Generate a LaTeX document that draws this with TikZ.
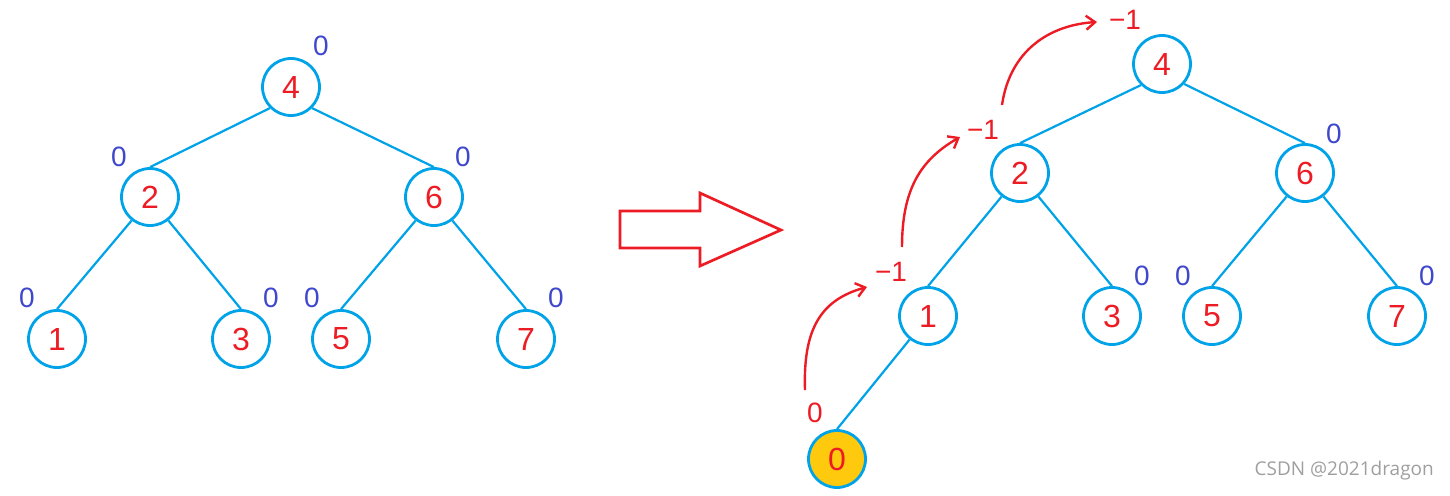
\documentclass[tikz,border=0pt]{standalone}
\usepackage{fontspec}
\usetikzlibrary{arrows.meta}
\setmainfont{Liberation Sans}
\newfontfamily\wmfont{Open Sans}
\definecolor{edgeblue}{HTML}{00A2E8}
\definecolor{numred}{HTML}{ED1C24}
\definecolor{balblue}{HTML}{3F48CC}
\definecolor{gold}{HTML}{FFC90E}
\begin{document}
\begin{tikzpicture}[x=1pt,y=-1pt,
  tnode/.style={circle,draw=edgeblue,line width=2.8pt,minimum size=57pt,inner sep=0pt,text=numred,font=\fontsize{32}{32}\selectfont},
  bal/.style={text=balblue,font=\fontsize{28}{28}\selectfont,inner sep=0pt},
  rbal/.style={text=numred,font=\fontsize{28}{28}\selectfont,inner sep=0pt},
  tedge/.style={draw=edgeblue,line width=2.2pt},
  carrow/.style={draw=numred,line width=2.4pt,-{Straight Barb[length=9pt,width=14pt]}},
]
\useasboundingbox (0,0) rectangle (1450,495);
% left tree
\node[tnode] (L4) at (291,87) {4};
\node[tnode] (L2) at (150,197) {2};
\node[tnode] (L6) at (434,197) {6};
\node[tnode] (L1) at (57,339) {1};
\node[tnode] (L3) at (241,339) {3};
\node[tnode] (L5) at (341,339) {5};
\node[tnode] (L7) at (526,339) {7};
\draw[tedge] (L4.225) -- (L2.north);
\draw[tedge] (L4.315) -- (L6.north);
\draw[tedge] (L2.232) -- (L1.north);
\draw[tedge] (L2.308) -- (L3.north);
\draw[tedge] (L6.232) -- (L5.north);
\draw[tedge] (L6.308) -- (L7.north);
\node[bal] (bL4) at (321,46) {0};
\node[bal] (bL2) at (119,157) {0};
\node[bal] (bL6) at (463,157) {0};
\node[bal] (bL1) at (27,298) {0};
\node[bal] (bL3) at (271,298) {0};
\node[bal] (bL5) at (312,298) {0};
\node[bal] (bL7) at (556,298) {0};
% big arrow
\draw[numred,line width=2.7pt,line join=miter] (620,211) -- (700,211) -- (700,193) -- (781,230) -- (700,266) -- (700,248) -- (620,248) -- cycle;
% right tree
\node[tnode] (R4) at (1162,64) {4};
\node[tnode] (R2) at (1020,173) {2};
\node[tnode] (R6) at (1305,173) {6};
\node[tnode] (R1) at (928,316) {1};
\node[tnode] (R3) at (1112,316) {3};
\node[tnode] (R5) at (1212,316) {5};
\node[tnode] (R7) at (1397,316) {7};
\node[tnode,fill=gold] (R0) at (837,459) {0};
\draw[tedge] (R4.225) -- (R2.north);
\draw[tedge] (R4.318) -- (R6.north);
\draw[tedge] (R2.232) -- (R1.north);
\draw[tedge] (R2.308) -- (R3.north);
\draw[tedge] (R6.232) -- (R5.north);
\draw[tedge] (R6.308) -- (R7.north);
\draw[tedge] (R1.232) -- (R0.north);
\node[bal] (bR6) at (1334,134) {0};
\node[bal] (bR3) at (1142,276) {0};
\node[bal] (bR5) at (1183,276) {0};
\node[bal] (bR7) at (1427,276) {0};
\node[rbal] (rR0) at (815,413) {0};
\node[rbal] (rR1) at (891,272) {−1};
\node[rbal] (rR2) at (983,130) {−1};
\node[rbal] (rR4) at (1125,20) {−1};
% red curved arrows
\coordinate (s1) at (805,390);
\coordinate (e1) at (867,287);
\coordinate (s2) at (902,247);
\coordinate (e2) at (960,137);
\coordinate (s3) at (1002,105);
\coordinate (e3) at (1097,22);
\draw[carrow] (s1) .. controls (803,330) and (820,300) .. (e1);
\draw[carrow] (s2) .. controls (902,190) and (920,160) .. (e2);
\draw[carrow] (s3) .. controls (1010,50) and (1050,25) .. (e3);
% watermark
\node[text=gray!75,font=\wmfont\fontsize{19}{19}\selectfont,anchor=east,inner sep=0pt] (wm) at (1434,471) {CSDN @2021dragon};
\end{tikzpicture}
\end{document}
